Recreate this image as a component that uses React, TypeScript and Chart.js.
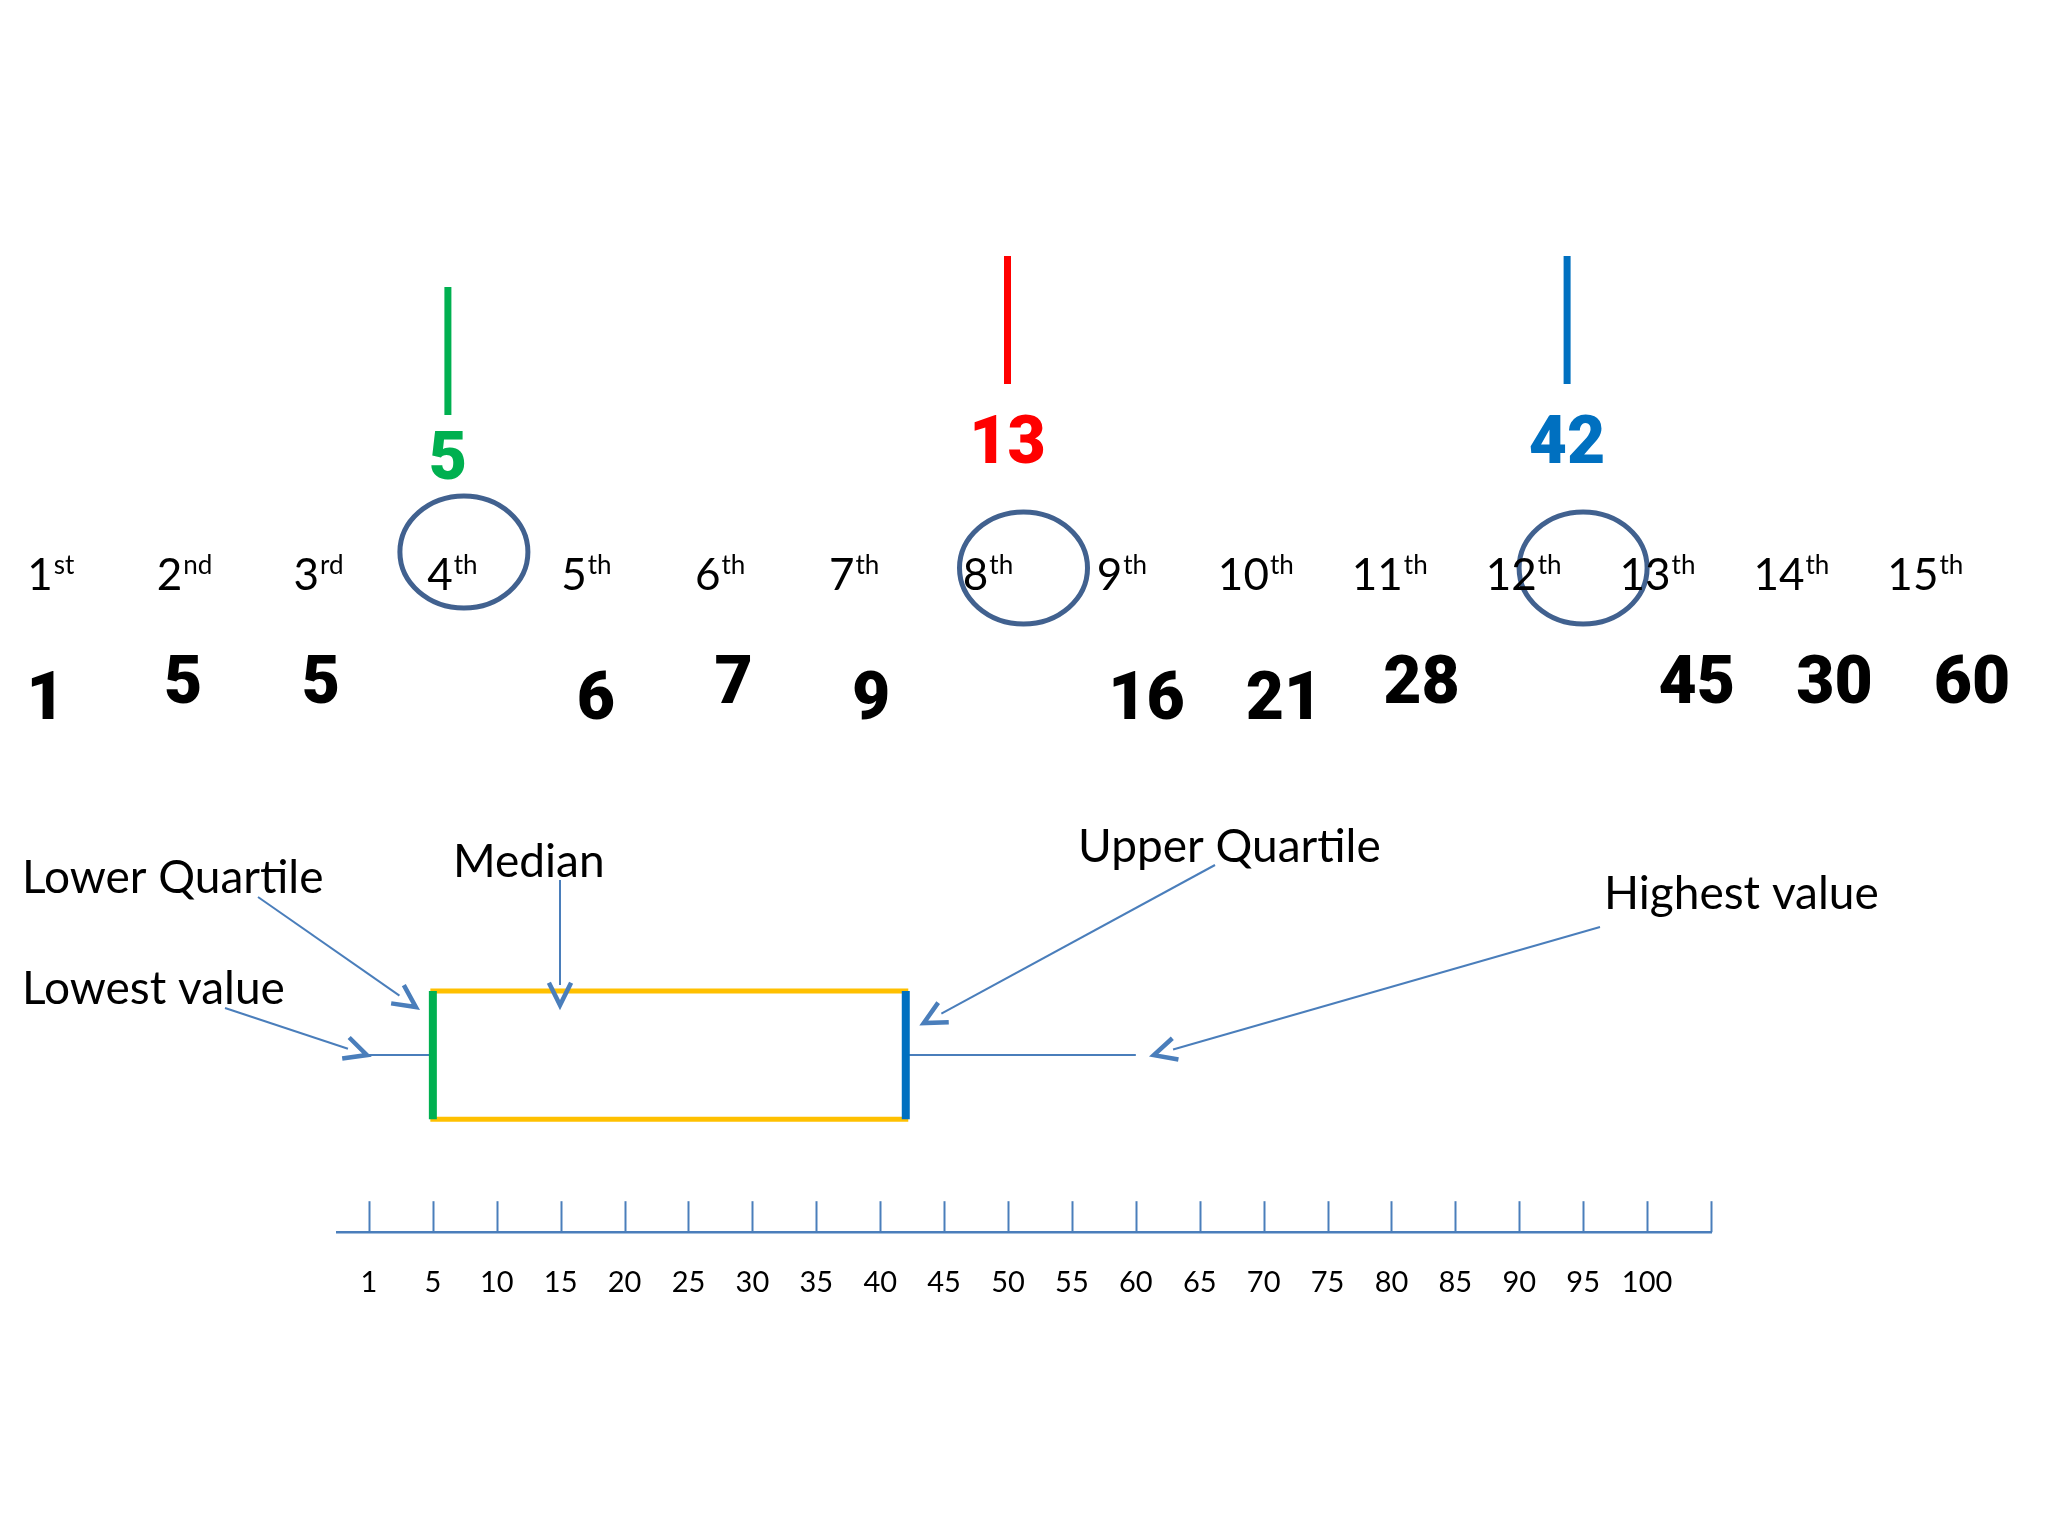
import React, { useEffect, useRef } from "react";
import { Chart, registerables } from "chart.js";
Chart.register(...registerables);

// ---------------- data ----------------
const ORDINALS = ["1st", "2nd", "3rd", "4th", "5th", "6th", "7th", "8th", "9th", "10th", "11th", "12th", "13th", "14th", "15th"];
const ORDINAL_RANKS = [1, 2, 3, 4, 5, 6, 7, 8, 9, 10, 11, 12, 13, 14, 15];
const VALUE_RANKS = [1, 2, 3, 5, 6, 7, 9, 10, 11, 13, 14, 15];
const VALUES = [1, 5, 5, 6, 7, 9, 16, 21, 28, 45, 30, 60];
const QUARTILE_RANKS = [4, 8, 12];
const QUARTILE_VALUES = [5, 13, 42];
const QUARTILE_COLORS = ["#00b050", "#ff0000", "#0070c0"];
const AXIS_LABELS = ["1", "5", "10", "15", "20", "25", "30", "35", "40", "45", "50", "55", "60", "65", "70", "75", "80", "85", "90", "95", "100"];
const NOTES = ["Lower Quartile", "Lowest value", "Median", "Upper Quartile", "Highest value"];

// ---------------- layout ----------------
const W = 2048;
const TOP_H = 760;
const BOT_H = 1536 - TOP_H;
const SANS = 'Lato, "Open Sans", sans-serif';
const HEAVY = 'Roboto, "DejaVu Sans", sans-serif';
const LINE_BLUE = "#4a7ebb";
const CIRCLE_COLOR = "#41618f";
const ORANGE = "#ffc000";

// pixel = x0 + step * rank, for each hidden rank scale of the top panel
const ORD_MAP = { x0: -83.2, step: 133.9 };
const VAL_MAP = { x0: -92, step: 137.6 };
const MARK_MAP = { x0: -111.7, step: 139.9 };
const rankScale = (m: { x0: number; step: number }) => ({
  type: "linear" as const,
  axis: "x" as const,
  display: false,
  min: -m.x0 / m.step,
  max: (W - m.x0) / m.step,
});

const ORD_BASELINE = 590;
const VALUE_ROW = ["low", "high", "high", "low", "high", "low", "low", "low", "high", "high", "high", "high"];
const VALUE_BASELINE: Record<string, number> = { low: 719, high: 703 };
const MARK_DY = [31, 0, 0];
const MARK_NUM_DY = [16, 0, 0];
const MARK_TOP = 256;
const MARK_BOTTOM = 384;
const MARK_NUM_BASELINE = 463;
const CIRCLE_DX = 16;
const CIRCLE_CY = [552, 568, 568];

const NOTE_TEXT_POS = [[22, 133], [22, 244], [453, 117], [1078, 102], [1604, 149]];
const NOTE_TAILS = [[258, 137], [225, 248], [560, 120], [1215, 105], [1600, 167]];

const AXIS_NUMS = AXIS_LABELS.map(Number);
function valueToIndex(v: number) {
  for (let i = 0; i < AXIS_NUMS.length - 1; i++) {
    const a = AXIS_NUMS[i];
    const b = AXIS_NUMS[i + 1];
    if (v <= b) return i + (v - a) / (b - a);
  }
  return AXIS_NUMS.length - 1;
}

const ALL_VALUES = [...VALUES, ...QUARTILE_VALUES];
const LOWEST = Math.min(...ALL_VALUES);
const HIGHEST = Math.max(...ALL_VALUES);
const [Q1, MEDIAN, Q3] = QUARTILE_VALUES;

function splitOrdinal(s: string) {
  const m = s.match(/^(\d+)(\D+)$/);
  return m ? [m[1], m[2]] : [s, ""];
}

const topPlugin = {
  id: "topMarks",
  afterDatasetsDraw(chart: any) {
    const ctx = chart.ctx as CanvasRenderingContext2D;
    const xMark = chart.scales.xMark;
    const y = chart.scales.y;
    ctx.save();
    // circles around the quartile positions
    ctx.strokeStyle = CIRCLE_COLOR;
    ctx.lineWidth = 5;
    QUARTILE_RANKS.forEach((r, i) => {
      const cx = xMark.getPixelForValue(r) + CIRCLE_DX;
      const cy = y.getPixelForValue(CIRCLE_CY[i]);
      ctx.beginPath();
      ctx.ellipse(cx, cy, 64, 56, 0, 0, Math.PI * 2);
      ctx.stroke();
    });
    // ordinal labels
    ctx.fillStyle = "#000";
    ctx.textAlign = "left";
    ctx.textBaseline = "alphabetic";
    chart.getDatasetMeta(0).data.forEach((el: any, i: number) => {
      const [num, suf] = splitOrdinal(ORDINALS[i]);
      ctx.font = `44px ${SANS}`;
      const w1 = ctx.measureText(num).width;
      ctx.font = `26px ${SANS}`;
      const w2 = ctx.measureText(suf).width;
      const left = el.x - (w1 + 1 + w2) / 2;
      ctx.font = `44px ${SANS}`;
      ctx.fillText(num, left, el.y);
      ctx.font = `26px ${SANS}`;
      ctx.fillText(suf, left + w1 + 1, el.y - 16);
    });
    // values
    ctx.textAlign = "center";
    ctx.font = `900 66px ${HEAVY}`;
    chart.getDatasetMeta(1).data.forEach((el: any, i: number) => {
      ctx.fillText(String(VALUES[i]), el.x, el.y);
    });
    // quartile values
    chart.getDatasetMeta(2).data.forEach((el: any, i: number) => {
      ctx.fillStyle = QUARTILE_COLORS[i];
      ctx.fillText(String(QUARTILE_VALUES[i]), el.x, el.y);
    });
    ctx.restore();
  },
};

function drawArrow(ctx: CanvasRenderingContext2D, x1: number, y1: number, x2: number, y2: number) {
  const ang = Math.atan2(y2 - y1, x2 - x1);
  const gap = 20;
  ctx.strokeStyle = LINE_BLUE;
  ctx.lineWidth = 2;
  ctx.beginPath();
  ctx.moveTo(x1, y1);
  ctx.lineTo(x2 - Math.cos(ang) * gap, y2 - Math.sin(ang) * gap);
  ctx.stroke();
  const L = 25;
  const a = 0.46;
  ctx.lineWidth = 4.5;
  ctx.lineJoin = "miter";
  ctx.beginPath();
  ctx.moveTo(x2 - L * Math.cos(ang - a), y2 - L * Math.sin(ang - a));
  ctx.lineTo(x2, y2);
  ctx.lineTo(x2 - L * Math.cos(ang + a), y2 - L * Math.sin(ang + a));
  ctx.stroke();
}

const bottomPlugin = {
  id: "boxNotes",
  afterDatasetsDraw(chart: any) {
    const ctx = chart.ctx as CanvasRenderingContext2D;
    const xs = chart.scales.x;
    const ys = chart.scales.y;
    const area = chart.chartArea;
    ctx.save();
    // upward tick marks of the number line
    ctx.strokeStyle = LINE_BLUE;
    ctx.lineWidth = 2;
    for (let i = 0; i <= AXIS_LABELS.length; i++) {
      const x = Math.round(xs.getPixelForValue(i)) + 0.5;
      ctx.beginPath();
      ctx.moveTo(x, area.bottom);
      ctx.lineTo(x, area.bottom - 31);
      ctx.stroke();
    }
    // notes
    ctx.fillStyle = "#000";
    ctx.font = `46px ${SANS}`;
    ctx.textAlign = "left";
    ctx.textBaseline = "alphabetic";
    NOTES.forEach((t, i) => ctx.fillText(t, NOTE_TEXT_POS[i][0], NOTE_TEXT_POS[i][1]));
    const xMin = xs.getPixelForValue(valueToIndex(LOWEST));
    const xQ1 = xs.getPixelForValue(valueToIndex(Q1));
    const xQ3 = xs.getPixelForValue(valueToIndex(Q3));
    const xMax = xs.getPixelForValue(valueToIndex(HIGHEST));
    const yTop = ys.getPixelForValue(1);
    const yMid = ys.getPixelForValue(0);
    const tips = [
      [xQ1 - 17, yTop + 16],
      [xMin - 2, yMid],
      [NOTE_TAILS[2][0], yTop + 14],
      [xQ3 + 18, yTop + 32],
      [xMax + 18, yMid],
    ];
    tips.forEach((tp, i) => drawArrow(ctx, NOTE_TAILS[i][0], NOTE_TAILS[i][1], tp[0], tp[1]));
    ctx.restore();
  },
};

const seg = (color: string, width: number, pts: { x: number; y: number }[], cap: CanvasLineCap = "butt") => ({
  data: pts,
  showLine: true,
  borderColor: color,
  borderWidth: width,
  borderCapStyle: cap,
  pointRadius: 0,
  fill: false,
});

export default function App() {
  const topRef = useRef<HTMLCanvasElement | null>(null);
  const botRef = useRef<HTMLCanvasElement | null>(null);

  useEffect(() => {
    document.documentElement.style.overflow = "hidden";
    const common = {
      responsive: false,
      animation: false as const,
      events: [] as any[],
      plugins: { legend: { display: false }, tooltip: { enabled: false } },
    };

    const top = new Chart(topRef.current as HTMLCanvasElement, {
      type: "scatter",
      data: {
        datasets: [
          {
            data: ORDINAL_RANKS.map((r) => ({ x: r, y: ORD_BASELINE })),
            xAxisID: "xOrd",
            yAxisID: "y",
            pointRadius: 0,
          },
          {
            data: VALUE_RANKS.map((r, i) => ({ x: r, y: VALUE_BASELINE[VALUE_ROW[i]] })),
            xAxisID: "xVal",
            yAxisID: "y",
            pointRadius: 0,
          },
          {
            data: QUARTILE_RANKS.map((r, i) => ({ x: r, y: MARK_NUM_BASELINE + MARK_NUM_DY[i] })),
            xAxisID: "xMark",
            yAxisID: "y",
            pointRadius: 0,
          },
          ...QUARTILE_RANKS.map((r, i) => ({
            ...seg(QUARTILE_COLORS[i], 7, [
              { x: r, y: MARK_TOP + MARK_DY[i] },
              { x: r, y: MARK_BOTTOM + MARK_DY[i] },
            ]),
            xAxisID: "xMark",
            yAxisID: "y",
          })),
        ] as any,
      },
      options: {
        ...common,
        layout: { padding: 0 },
        scales: {
          xOrd: rankScale(ORD_MAP),
          xVal: rankScale(VAL_MAP),
          xMark: rankScale(MARK_MAP),
          y: { type: "linear", display: false, min: 0, max: TOP_H, reverse: true },
        } as any,
      },
      plugins: [topPlugin],
    });

    const iMin = valueToIndex(LOWEST);
    const iQ1 = valueToIndex(Q1);
    const iQ3 = valueToIndex(Q3);
    const iMax = valueToIndex(HIGHEST);

    const bottom = new Chart(botRef.current as HTMLCanvasElement, {
      type: "scatter",
      data: {
        datasets: [
          seg(QUARTILE_COLORS[0], 8, [{ x: iQ1, y: -1 }, { x: iQ1, y: 1 }]),
          seg(QUARTILE_COLORS[2], 8, [{ x: iQ3, y: -1 }, { x: iQ3, y: 1 }]),
          seg(ORANGE, 5, [{ x: iQ1, y: 1 }, { x: iQ3, y: 1 }], "square"),
          seg(ORANGE, 5, [{ x: iQ1, y: -1 }, { x: iQ3, y: -1 }], "square"),
          seg(LINE_BLUE, 2, [{ x: iMin, y: 0 }, { x: iQ1, y: 0 }]),
          seg(LINE_BLUE, 2, [{ x: iQ3, y: 0 }, { x: iMax, y: 0 }]),
        ] as any,
      },
      options: {
        ...common,
        layout: { padding: { left: 337, right: 337, top: 0, bottom: 203 } },
        scales: {
          x: {
            type: "linear",
            position: "bottom",
            min: -0.5,
            max: AXIS_LABELS.length,
            afterBuildTicks: (s: any) => {
              s.ticks = AXIS_LABELS.map((_, i) => ({ value: i }));
            },
            grid: { display: false, drawTicks: false },
            border: { display: true, color: LINE_BLUE, width: 2.5 },
            ticks: {
              autoSkip: false,
              maxRotation: 0,
              padding: 33,
              color: "#000",
              font: { family: SANS, size: 29 },
              callback: (v: any) => AXIS_LABELS[Math.round(Number(v))] ?? "",
            },
          },
          y: { type: "linear", display: false, min: -2.766, max: 4.609 },
        } as any,
      },
      plugins: [bottomPlugin],
    });

    return () => {
      top.destroy();
      bottom.destroy();
    };
  }, []);

  return (
    <div style={{ position: "absolute", left: 0, top: 0, width: W, height: 1536, background: "#fff" }}>
      <canvas ref={topRef} width={W} height={TOP_H} style={{ position: "absolute", left: 0, top: 0, display: "block" }} />
      <canvas ref={botRef} width={W} height={BOT_H} style={{ position: "absolute", left: 0, top: TOP_H, display: "block" }} />
    </div>
  );
}
